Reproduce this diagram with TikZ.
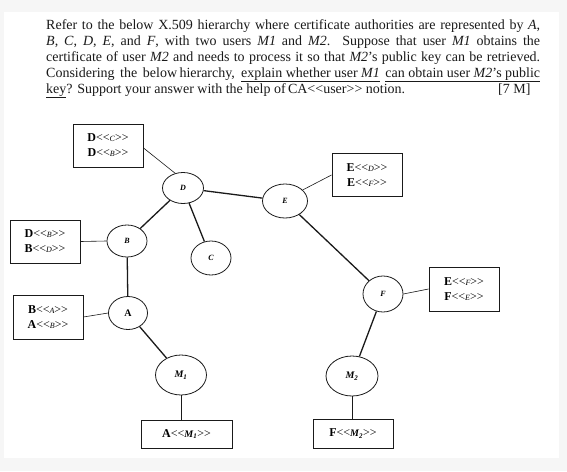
\documentclass[tikz,border=0pt]{standalone}
\usepackage{fontspec}
\setmainfont{Liberation Serif}
\usetikzlibrary{shapes.geometric}
\definecolor{pagegray}{HTML}{F6F6F6}
\definecolor{ink}{HTML}{1A1A1A}
\newcommand{\sm}[1]{{\fontsize{8}{8}\selectfont\itshape #1}}
\newcommand{\bx}[1]{\textbf{#1}}
\newcommand{\dlt}{<\kern0pt<}
\newcommand{\dgt}{>\kern0pt>}
\newcommand{\ul}[1]{\underline{#1}}
\begin{document}
\begin{tikzpicture}[x=1pt,y=-1pt,
  cnode/.style={ellipse, draw=ink, line width=0.8pt, inner sep=0pt, font=\fontsize{8}{8}\selectfont\bfseries\itshape},
  lbox/.style={draw=ink, line width=1pt, inner sep=0pt, minimum width=70pt, minimum height=43pt, align=center, font=\fontsize{12}{15}\selectfont},
  thickline/.style={draw=ink, line width=1.3pt},
  thinline/.style={draw=ink, line width=0.6pt},
  txt/.style={anchor=base west, inner sep=0pt, font=\fontsize{14}{16}\selectfont, text=ink}]
\useasboundingbox (0,0) rectangle (567,471);
\fill[pagegray] (0,0) rectangle (567,471);
\fill[white] (4,12) rectangle (559,458);
% question text
\node[txt] (l1) at (46,29) {\makebox[494pt][s]{Refer to the below X.509 hierarchy where certificate authorities are represented by \textit{A},}};
\node[txt] (l2) at (46,45) {\makebox[494pt][s]{\textit{B}, \textit{C}, \textit{D}, \textit{E}, and \textit{F}, with two users \textit{M1} and \textit{M2}. Suppose that user \textit{M1} obtains the}};
\node[txt] (l3) at (46,61) {\makebox[494pt][s]{certificate of user \textit{M2} and needs to process it so that \textit{M2}'s public key can be retrieved.}};
\node[txt] (l4) at (46,77) {\makebox[494pt][s]{Considering the below\,hierarchy, \ul{explain whether user \textit{M1}} \ul{can obtain user \textit{M2}'s public}}};
\node[txt] (l5) at (46,93) {\ul{key}? Support your answer with the help of\,CA\dlt user\dgt{} notion.};
\node[txt] (mk) at (498,93) {[7 M]};
% nodes
\node[cnode, minimum width=41pt, minimum height=31pt] (D) at (183,188) {D};
\node[cnode, minimum width=45pt, minimum height=34pt] (E) at (285,201) {E};
\node[cnode, minimum width=40pt, minimum height=34pt] (C) at (211,258) {C};
\node[cnode, minimum width=40pt, minimum height=32pt] (B) at (127,241) {B};
\node[cnode, minimum width=39pt, minimum height=33pt, font=\fontsize{10}{10}\selectfont\bfseries] (A) at (128,313) {A};
\node[cnode, minimum width=40pt, minimum height=36pt] (F) at (383,294) {F};
\node[cnode, minimum width=51pt, minimum height=40pt, font=\fontsize{10}{10}\selectfont\bfseries\itshape] (M1) at (181,375) {M\textsubscript{1}};
\node[cnode, minimum width=52pt, minimum height=40pt, font=\fontsize{10}{10}\selectfont\bfseries\itshape] (M2) at (352,376) {M\textsubscript{2}};
% boxes
\node[lbox] (bD) at (108,145.5) {\bx{D}\dlt\sm{C}\dgt\\\bx{D}\dlt\sm{B}\dgt};
\node[lbox] (bE) at (367,175) {\bx{E}\dlt\sm{D}\dgt\\\bx{E}\dlt\sm{F}\dgt};
\node[lbox] (bB) at (45,241.5) {\bx{D}\dlt\sm{B}\dgt\\\bx{B}\dlt\sm{D}\dgt};
\node[lbox, minimum height=44pt] (bA) at (48,317) {\bx{B}\dlt\sm{A}\dgt\\\bx{A}\dlt\sm{B}\dgt};
\node[lbox, minimum height=44pt] (bF) at (464,289) {\bx{E}\dlt\sm{F}\dgt\\\bx{F}\dlt\sm{E}\dgt};
\node[lbox, minimum width=91pt, minimum height=28pt] (bM1) at (186.5,434) {\bx{A}\dlt{\fontsize{10}{10}\selectfont\bfseries\itshape M\textsubscript{1}}\dgt};
\node[lbox, minimum width=80pt, minimum height=29pt] (bM2) at (353,433.5) {\bx{F}\dlt{\fontsize{10}{10}\selectfont\bfseries\itshape M\textsubscript{2}}\dgt};
% connectors
\draw[thickline] (D) -- (E);
\draw[thickline] (D) -- (B);
\draw[thickline] (D) -- (C);
\draw[thickline] (B) -- (A);
\draw[thickline] (A) -- (M1);
\draw[thickline] (E) -- (F);
\draw[thickline] (F) -- (M2);
\draw[thinline] (bD.-4) -- (D.118);
\draw[thinline] (bE.west) -- (E.32);
\draw[thinline] (bB.east) -- (B.west);
\draw[thinline] (bA.east) -- (A.west);
\draw[thinline] (F.east) -- (bF.west);
\draw[thinline] (M1.south) -- (M1.south |- bM1.north);
\draw[thinline] (M2.south) -- (M2.south |- bM2.north);
\end{tikzpicture}
\end{document}
